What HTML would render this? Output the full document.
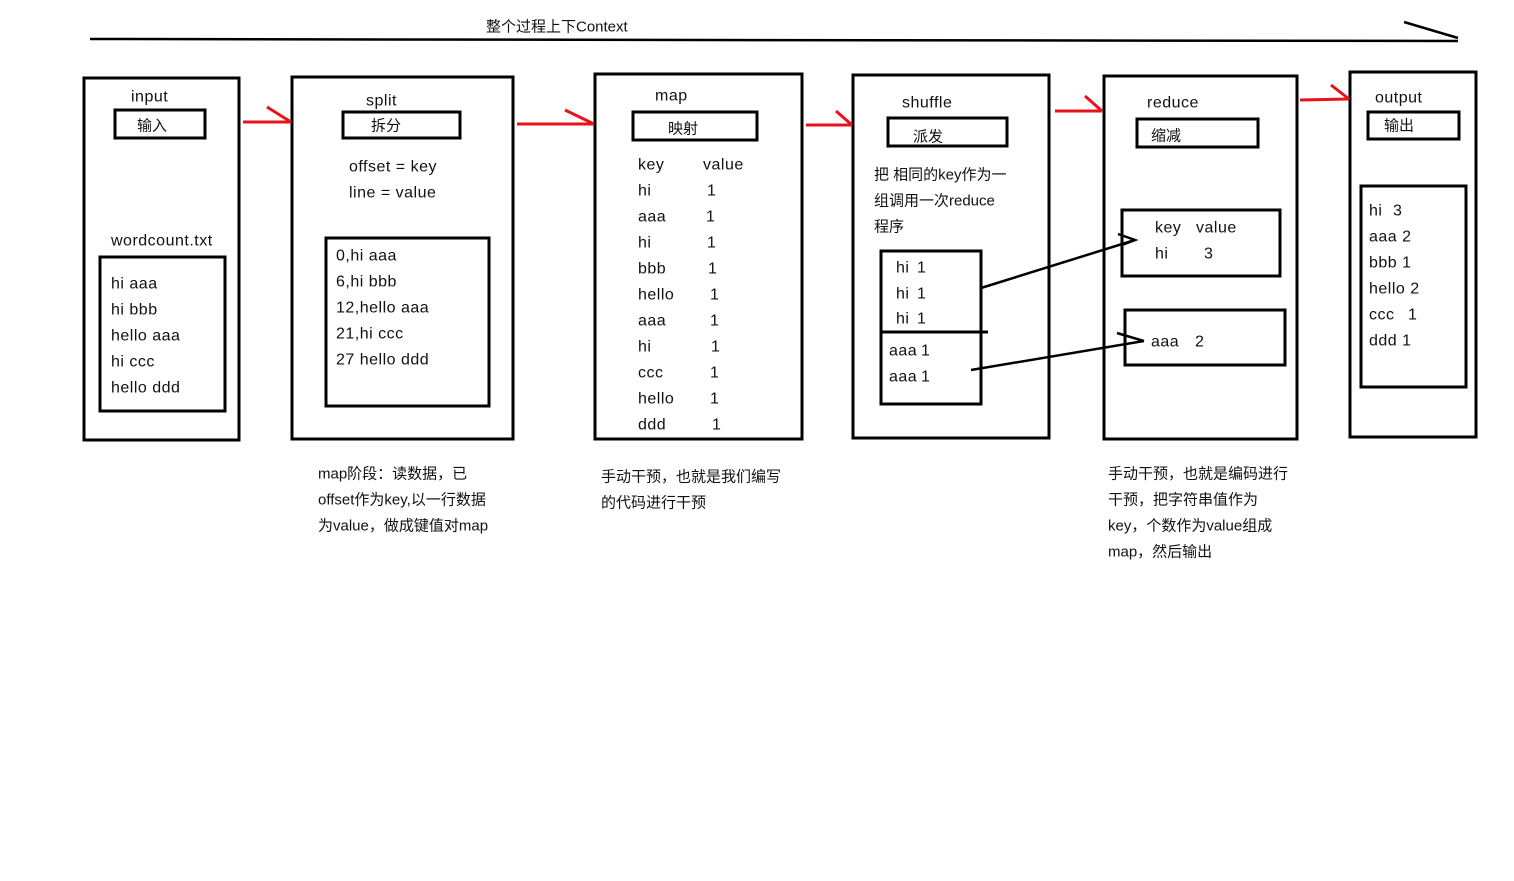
<!DOCTYPE html>
<html><head><meta charset="utf-8"><style>
html,body{margin:0;padding:0;background:#fff;}
svg{display:block}
text{font-family:"Liberation Sans","Noto Sans CJK SC",sans-serif;font-size:16px;letter-spacing:0.5px;fill:#111;dominant-baseline:central;white-space:pre}
.c{font-size:15px;letter-spacing:0}
</style></head><body>
<svg width="1514" height="881" viewBox="0 0 1514 881" xmlns="http://www.w3.org/2000/svg" xml:space="preserve">
<g transform="translate(0,1)">
<g fill="none" stroke="#000" stroke-width="3" transform="translate(0,-1)">
<path d="M90 39 L700 40 L1458 41" stroke-width="2.5"/>
<path d="M1404 22 L1458 38" stroke-width="2.5"/>
<rect x="84" y="78" width="155" height="362"/>
<rect x="292" y="77" width="221" height="362"/>
<rect x="595" y="74" width="207" height="365"/>
<rect x="853" y="75" width="196" height="363"/>
<rect x="1104" y="76" width="193" height="363"/>
<rect x="1350" y="72" width="126" height="365"/>
<rect x="115" y="110" width="90" height="28"/>
<rect x="343" y="112" width="117" height="26"/>
<rect x="633" y="112" width="124" height="28"/>
<rect x="888" y="118" width="119" height="28"/>
<rect x="1137" y="119" width="121" height="28"/>
<rect x="1368" y="112" width="91" height="27"/>
<rect x="100" y="257" width="125" height="154"/>
<rect x="326" y="238" width="163" height="168"/>
<rect x="881" y="251" width="100" height="153"/>
<path d="M880 332 L988 332"/>
<rect x="1122" y="210" width="158" height="66"/>
<rect x="1125" y="310" width="160" height="55"/>
<rect x="1361" y="186" width="105" height="201"/>
<path d="M981 288 L1135 240 M1118 234 L1135 240 L1122 245" stroke-width="2.5"/>
<path d="M971 370 L1144 341 M1117 333 L1144 341" stroke-width="2.5"/>
</g>
<g fill="none" stroke="#e8121a" stroke-width="3" transform="translate(0,-1)">
<path d="M243 122 L291 122 M267 107 L291 122"/>
<path d="M517 124 L594 124 M565 110 L594 124"/>
<path d="M806 125 L852 125 M836 111 L852 125"/>
<path d="M1055 111 L1102 111 M1085 96 L1102 111"/>
<path d="M1300 100 L1349 99 M1331 85 L1349 99"/>
</g>
<text x="486" y="26" class="c">整个过程上下Context</text>
<text x="131" y="96">input</text>
<text x="137" y="125" class="c">输入</text>
<text x="111" y="240">wordcount.txt</text>
<text x="111" y="283">hi aaa</text>
<text x="111" y="309">hi bbb</text>
<text x="111" y="335">hello aaa</text>
<text x="111" y="361">hi ccc</text>
<text x="111" y="387">hello ddd</text>
<text x="366" y="100">split</text>
<text x="371" y="125" class="c">拆分</text>
<text x="349" y="166">offset = key</text>
<text x="349" y="192">line = value</text>
<text x="336" y="255">0,hi aaa</text>
<text x="336" y="281">6,hi bbb</text>
<text x="336" y="307">12,hello aaa</text>
<text x="336" y="333">21,hi ccc</text>
<text x="336" y="359">27 hello ddd</text>
<text x="655" y="95">map</text>
<text x="668" y="128" class="c">映射</text>
<text x="638" y="164">key</text><text x="703" y="164">value</text>
<text x="638" y="190">hi</text><text x="707" y="190">1</text>
<text x="638" y="216">aaa</text><text x="706" y="216">1</text>
<text x="638" y="242">hi</text><text x="707" y="242">1</text>
<text x="638" y="268">bbb</text><text x="708" y="268">1</text>
<text x="638" y="294">hello</text><text x="710" y="294">1</text>
<text x="638" y="320">aaa</text><text x="710" y="320">1</text>
<text x="638" y="346">hi</text><text x="711" y="346">1</text>
<text x="638" y="372">ccc</text><text x="710" y="372">1</text>
<text x="638" y="398">hello</text><text x="710" y="398">1</text>
<text x="638" y="424">ddd</text><text x="712" y="424">1</text>
<text x="902" y="102">shuffle</text>
<text x="913" y="136" class="c">派发</text>
<text x="874" y="174" class="c">把 相同的key作为一</text>
<text x="874" y="200" class="c">组调用一次reduce</text>
<text x="874" y="226" class="c">程序</text>
<text x="896" y="267">hi</text><text x="917" y="267">1</text>
<text x="896" y="293">hi</text><text x="917" y="293">1</text>
<text x="896" y="318">hi</text><text x="917" y="318">1</text>
<text x="889" y="350">aaa</text><text x="921" y="350">1</text>
<text x="889" y="376">aaa</text><text x="921" y="376">1</text>
<text x="1147" y="102">reduce</text>
<text x="1151" y="135" class="c">缩减</text>
<text x="1155" y="227">key</text><text x="1196" y="227">value</text>
<text x="1155" y="253">hi</text><text x="1204" y="253">3</text>
<text x="1151" y="341">aaa</text><text x="1195" y="341">2</text>
<text x="1375" y="97">output</text>
<text x="1384" y="125" class="c">输出</text>
<text x="1369" y="210">hi</text><text x="1393" y="210">3</text>
<text x="1369" y="236">aaa 2</text>
<text x="1369" y="262">bbb 1</text>
<text x="1369" y="288">hello 2</text>
<text x="1369" y="314">ccc</text><text x="1408" y="314">1</text>
<text x="1369" y="340">ddd 1</text>
<text x="318" y="473" class="c">map阶段：读数据，已</text>
<text x="318" y="499" class="c">offset作为key,以一行数据</text>
<text x="318" y="525" class="c">为value，做成键值对map</text>
<text x="601" y="476" class="c">手动干预，也就是我们编写</text>
<text x="601" y="502" class="c">的代码进行干预</text>
<text x="1108" y="473" class="c">手动干预，也就是编码进行</text>
<text x="1108" y="499" class="c">干预，把字符串值作为</text>
<text x="1108" y="525" class="c">key，个数作为value组成</text>
<text x="1108" y="551" class="c">map，然后输出</text>
</g>
</svg>
</body></html>
